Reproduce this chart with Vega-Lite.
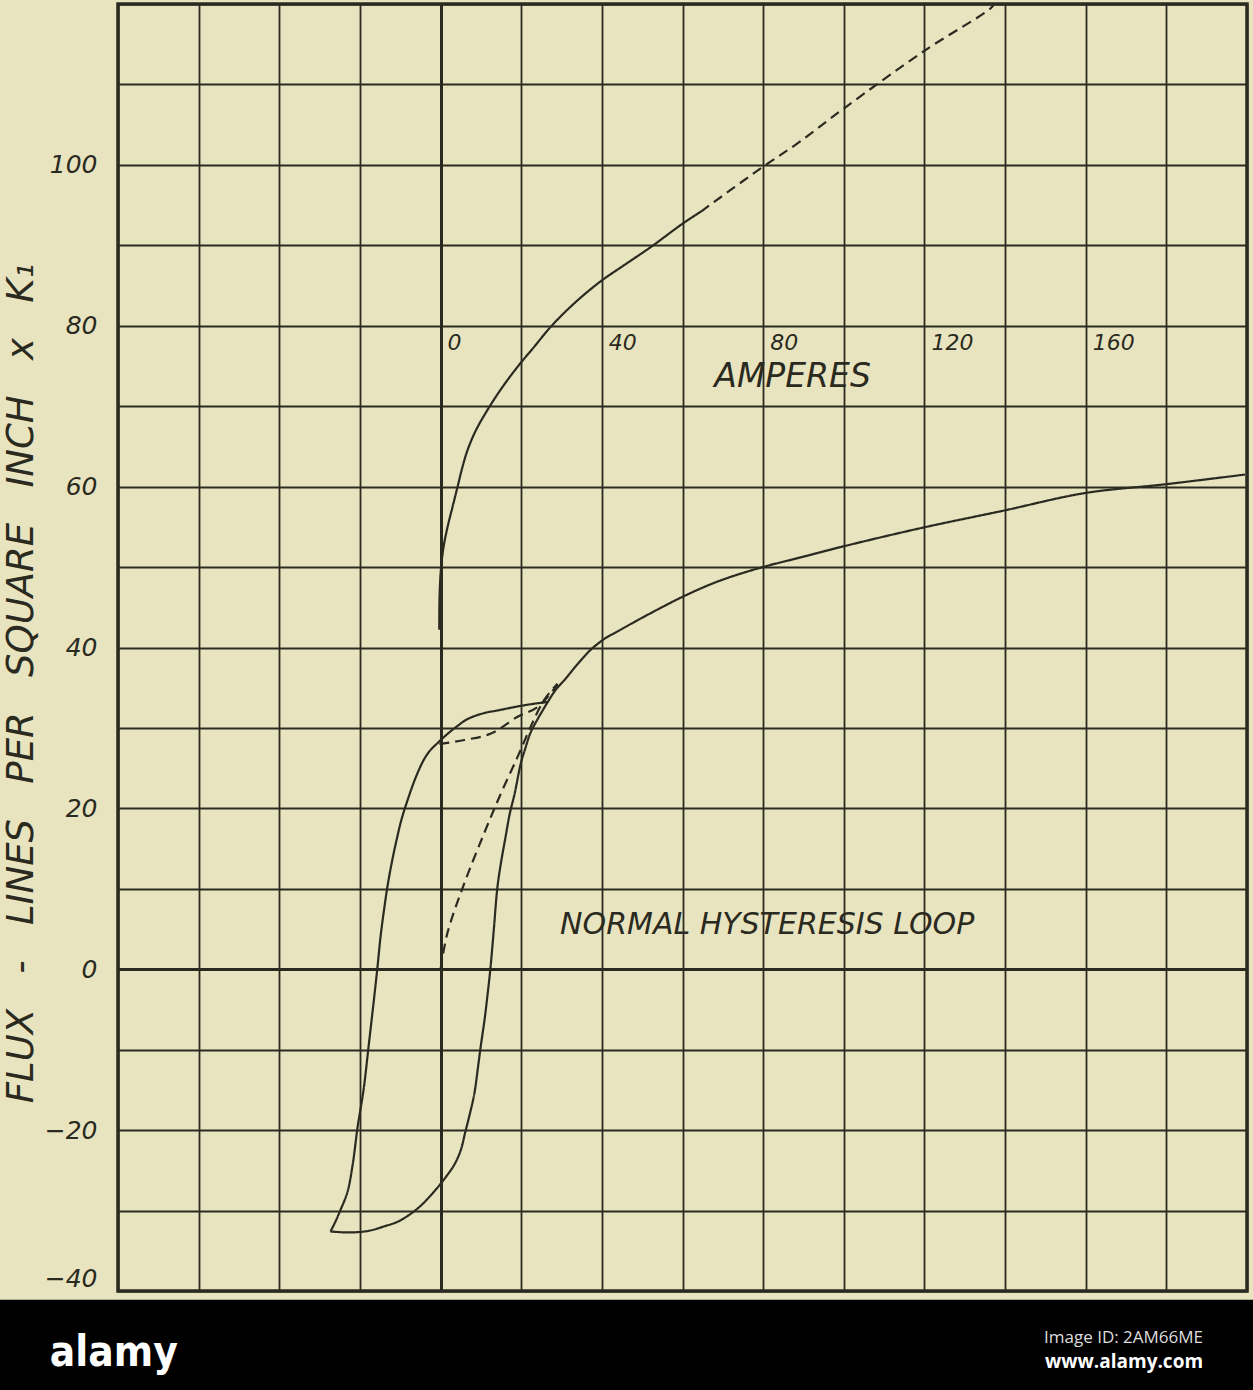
{
  "$schema": "https://vega.github.io/schema/vega-lite/v6.json",
  "background": "#e9e4c0",
  "autosize": {"type": "none"},
  "padding": {"left": 118, "top": 4, "right": 6, "bottom": 99},
  "width": 1129,
  "height": 1287,
  "view": {"stroke": "#2a2a20", "strokeWidth": 3.5},
  "datasets": {
    "curves": [
      {"curve": "upper", "style": "solid", "i": 1, "A": -0.32, "flux": 42.2},
      {"curve": "upper", "style": "solid", "i": 2, "A": -0.25, "flux": 46.3},
      {"curve": "upper", "style": "solid", "i": 3, "A": 0.07, "flux": 49.6},
      {"curve": "upper", "style": "solid", "i": 4, "A": 0.74, "flux": 52.5},
      {"curve": "upper", "style": "solid", "i": 5, "A": 1.74, "flux": 55.0},
      {"curve": "upper", "style": "solid", "i": 6, "A": 2.98, "flux": 57.5},
      {"curve": "upper", "style": "solid", "i": 7, "A": 4.22, "flux": 60.0},
      {"curve": "upper", "style": "solid", "i": 8, "A": 5.46, "flux": 62.5},
      {"curve": "upper", "style": "solid", "i": 9, "A": 6.7, "flux": 64.55},
      {"curve": "upper", "style": "solid", "i": 10, "A": 8.76, "flux": 67.0},
      {"curve": "upper", "style": "solid", "i": 11, "A": 12.08, "flux": 69.9},
      {"curve": "upper", "style": "solid", "i": 12, "A": 15.38, "flux": 72.4},
      {"curve": "upper", "style": "solid", "i": 13, "A": 19.1, "flux": 74.9},
      {"curve": "upper", "style": "solid", "i": 14, "A": 23.25, "flux": 77.4},
      {"curve": "upper", "style": "solid", "i": 15, "A": 27.37, "flux": 79.9},
      {"curve": "upper", "style": "solid", "i": 16, "A": 33.18, "flux": 82.8},
      {"curve": "upper", "style": "solid", "i": 17, "A": 39.63, "flux": 85.5},
      {"curve": "upper", "style": "solid", "i": 18, "A": 45.58, "flux": 87.55},
      {"curve": "upper", "style": "solid", "i": 19, "A": 52.18, "flux": 89.8},
      {"curve": "upper", "style": "solid", "i": 20, "A": 60.05, "flux": 92.7},
      {"curve": "upper", "style": "solid", "i": 21, "A": 64.6, "flux": 94.2},
      {"curve": "upperDash", "style": "dashed", "i": 1, "A": 64.6, "flux": 94.2},
      {"curve": "upperDash", "style": "dashed", "i": 2, "A": 79.2, "flux": 99.5},
      {"curve": "upperDash", "style": "dashed", "i": 3, "A": 88.6, "flux": 102.7},
      {"curve": "upperDash", "style": "dashed", "i": 4, "A": 100.25, "flux": 107.1},
      {"curve": "upperDash", "style": "dashed", "i": 5, "A": 120.35, "flux": 114.3},
      {"curve": "upperDash", "style": "dashed", "i": 6, "A": 136.5, "flux": 119.5},
      {"curve": "upperDash", "style": "dashed", "i": 7, "A": 137.2, "flux": 120},
      {"curve": "desc", "style": "solid", "i": 1, "A": 26.55, "flux": 33.23},
      {"curve": "desc", "style": "solid", "i": 2, "A": 22.8, "flux": 32.98},
      {"curve": "desc", "style": "solid", "i": 3, "A": 19.1, "flux": 32.67},
      {"curve": "desc", "style": "solid", "i": 4, "A": 14.1, "flux": 32.17},
      {"curve": "desc", "style": "solid", "i": 5, "A": 10.9, "flux": 31.86},
      {"curve": "desc", "style": "solid", "i": 6, "A": 6.7, "flux": 31.11},
      {"curve": "desc", "style": "solid", "i": 7, "A": 4.2, "flux": 30.25},
      {"curve": "desc", "style": "solid", "i": 8, "A": 1.7, "flux": 29.25},
      {"curve": "desc", "style": "solid", "i": 9, "A": -0.74, "flux": 28.13},
      {"curve": "desc", "style": "solid", "i": 10, "A": -2.7, "flux": 27.14},
      {"curve": "desc", "style": "solid", "i": 11, "A": -4.2, "flux": 26.0},
      {"curve": "desc", "style": "solid", "i": 12, "A": -6.2, "flux": 23.8},
      {"curve": "desc", "style": "solid", "i": 13, "A": -8.2, "flux": 21.0},
      {"curve": "desc", "style": "solid", "i": 14, "A": -9.7, "flux": 18.6},
      {"curve": "desc", "style": "solid", "i": 15, "A": -10.9, "flux": 16.1},
      {"curve": "desc", "style": "solid", "i": 16, "A": -12.2, "flux": 13.0},
      {"curve": "desc", "style": "solid", "i": 17, "A": -13.2, "flux": 10.2},
      {"curve": "desc", "style": "solid", "i": 18, "A": -14.1, "flux": 7.1},
      {"curve": "desc", "style": "solid", "i": 19, "A": -14.9, "flux": 4.0},
      {"curve": "desc", "style": "solid", "i": 20, "A": -15.6, "flux": 0.5},
      {"curve": "desc", "style": "solid", "i": 21, "A": -16.4, "flux": -3.2},
      {"curve": "desc", "style": "solid", "i": 22, "A": -17.1, "flux": -6.3},
      {"curve": "desc", "style": "solid", "i": 23, "A": -17.9, "flux": -9.8},
      {"curve": "desc", "style": "solid", "i": 24, "A": -19.1, "flux": -15.0},
      {"curve": "desc", "style": "solid", "i": 25, "A": -20.6, "flux": -19.7},
      {"curve": "desc", "style": "solid", "i": 26, "A": -21.8, "flux": -24.3},
      {"curve": "desc", "style": "solid", "i": 27, "A": -23.1, "flux": -27.7},
      {"curve": "desc", "style": "solid", "i": 28, "A": -24.8, "flux": -29.9},
      {"curve": "desc", "style": "solid", "i": 29, "A": -26.1, "flux": -31.4},
      {"curve": "desc", "style": "solid", "i": 30, "A": -27.3, "flux": -32.6},
      {"curve": "asc", "style": "solid", "i": 1, "A": -27.3, "flux": -32.6},
      {"curve": "asc", "style": "solid", "i": 2, "A": -24.3, "flux": -32.7},
      {"curve": "asc", "style": "solid", "i": 3, "A": -21.3, "flux": -32.7},
      {"curve": "asc", "style": "solid", "i": 4, "A": -17.6, "flux": -32.5},
      {"curve": "asc", "style": "solid", "i": 5, "A": -13.9, "flux": -31.95},
      {"curve": "asc", "style": "solid", "i": 6, "A": -10.7, "flux": -31.4},
      {"curve": "asc", "style": "solid", "i": 7, "A": -7.4, "flux": -30.4},
      {"curve": "asc", "style": "solid", "i": 8, "A": -4.5, "flux": -29.2},
      {"curve": "asc", "style": "solid", "i": 9, "A": -1.2, "flux": -27.4},
      {"curve": "asc", "style": "solid", "i": 10, "A": 1.2, "flux": -25.9},
      {"curve": "asc", "style": "solid", "i": 11, "A": 3.4, "flux": -24.3},
      {"curve": "asc", "style": "solid", "i": 12, "A": 5.0, "flux": -22.5},
      {"curve": "asc", "style": "solid", "i": 13, "A": 6.1, "flux": -20.3},
      {"curve": "asc", "style": "solid", "i": 14, "A": 7.3, "flux": -17.9},
      {"curve": "asc", "style": "solid", "i": 15, "A": 8.4, "flux": -15.4},
      {"curve": "asc", "style": "solid", "i": 16, "A": 9.2, "flux": -12.5},
      {"curve": "asc", "style": "solid", "i": 17, "A": 9.9, "flux": -9.8},
      {"curve": "asc", "style": "solid", "i": 18, "A": 10.9, "flux": -6.3},
      {"curve": "asc", "style": "solid", "i": 19, "A": 11.7, "flux": -2.95},
      {"curve": "asc", "style": "solid", "i": 20, "A": 12.4, "flux": 0.3},
      {"curve": "asc", "style": "solid", "i": 21, "A": 13.2, "flux": 4.9},
      {"curve": "asc", "style": "solid", "i": 22, "A": 14.1, "flux": 10.2},
      {"curve": "asc", "style": "solid", "i": 23, "A": 15.1, "flux": 13.6},
      {"curve": "asc", "style": "solid", "i": 24, "A": 16.1, "flux": 16.4},
      {"curve": "asc", "style": "solid", "i": 25, "A": 17.1, "flux": 19.2},
      {"curve": "asc", "style": "solid", "i": 26, "A": 18.4, "flux": 21.9},
      {"curve": "asc", "style": "solid", "i": 27, "A": 19.9, "flux": 25.6},
      {"curve": "asc", "style": "solid", "i": 28, "A": 21.1, "flux": 27.6},
      {"curve": "asc", "style": "solid", "i": 29, "A": 22.3, "flux": 29.4},
      {"curve": "asc", "style": "solid", "i": 30, "A": 24.3, "flux": 31.3},
      {"curve": "asc", "style": "solid", "i": 31, "A": 26.55, "flux": 33.2},
      {"curve": "asc", "style": "solid", "i": 32, "A": 28.5, "flux": 34.7},
      {"curve": "asc", "style": "solid", "i": 33, "A": 30.8, "flux": 36.0},
      {"curve": "asc", "style": "solid", "i": 34, "A": 34.0, "flux": 37.95},
      {"curve": "asc", "style": "solid", "i": 35, "A": 37.2, "flux": 39.7},
      {"curve": "asc", "style": "solid", "i": 36, "A": 40.7, "flux": 41.1},
      {"curve": "asc", "style": "solid", "i": 37, "A": 43.9, "flux": 42.0},
      {"curve": "asc", "style": "solid", "i": 38, "A": 48.9, "flux": 43.4},
      {"curve": "asc", "style": "solid", "i": 39, "A": 54.5, "flux": 44.9},
      {"curve": "asc", "style": "solid", "i": 40, "A": 60.0, "flux": 46.3},
      {"curve": "asc", "style": "solid", "i": 41, "A": 68.7, "flux": 48.2},
      {"curve": "asc", "style": "solid", "i": 42, "A": 79.2, "flux": 49.9},
      {"curve": "asc", "style": "solid", "i": 43, "A": 89.3, "flux": 51.2},
      {"curve": "asc", "style": "solid", "i": 44, "A": 99.3, "flux": 52.5},
      {"curve": "asc", "style": "solid", "i": 45, "A": 119.6, "flux": 54.9},
      {"curve": "asc", "style": "solid", "i": 46, "A": 139.5, "flux": 57.0},
      {"curve": "asc", "style": "solid", "i": 47, "A": 159.8, "flux": 59.2},
      {"curve": "asc", "style": "solid", "i": 48, "A": 179.9, "flux": 60.3},
      {"curve": "asc", "style": "solid", "i": 49, "A": 199.5, "flux": 61.5},
      {"curve": "virgin", "style": "dashed", "i": 1, "A": 0, "flux": 0},
      {"curve": "virgin", "style": "dashed", "i": 2, "A": 1.7, "flux": 4.5},
      {"curve": "virgin", "style": "dashed", "i": 3, "A": 5.9, "flux": 10.7},
      {"curve": "virgin", "style": "dashed", "i": 4, "A": 10.8, "flux": 16.9},
      {"curve": "virgin", "style": "dashed", "i": 5, "A": 15.0, "flux": 21.9},
      {"curve": "virgin", "style": "dashed", "i": 6, "A": 19.1, "flux": 26.4},
      {"curve": "virgin", "style": "dashed", "i": 7, "A": 22.4, "flux": 30.2},
      {"curve": "virgin", "style": "dashed", "i": 8, "A": 25.7, "flux": 33.5},
      {"curve": "virgin", "style": "dashed", "i": 9, "A": 29.0, "flux": 35.5},
      {"curve": "minor", "style": "dashed", "i": 1, "A": -0.3, "flux": 28.0},
      {"curve": "minor", "style": "dashed", "i": 2, "A": 5.9, "flux": 28.5},
      {"curve": "minor", "style": "dashed", "i": 3, "A": 12.5, "flux": 29.3},
      {"curve": "minor", "style": "dashed", "i": 4, "A": 19.1, "flux": 31.4},
      {"curve": "minor", "style": "dashed", "i": 5, "A": 24.1, "flux": 32.6},
      {"curve": "minor", "style": "dashed", "i": 6, "A": 29.0, "flux": 35.4}
    ],
    "amps": [
      {"A": 0, "flux": 77.9, "label": "0"},
      {"A": 40, "flux": 77.9, "label": "40"},
      {"A": 80, "flux": 77.9, "label": "80"},
      {"A": 120, "flux": 77.9, "label": "120"},
      {"A": 160, "flux": 77.9, "label": "160"}
    ],
    "notes": [
      {"A": 87.3, "flux": 73.6, "label": "AMPERES"},
      {"A": 81.0, "flux": 5.5, "label": "NORMAL HYSTERESIS LOOP"}
    ],
    "band": [
      {"A": -120, "A2": 210, "flux": -41.1, "flux2": -54}
    ],
    "stamp": [
      {"part": "logo", "A": -96.9, "flux": -49.3, "label": "alamy"},
      {"part": "id", "A": 189.1, "flux": -45.8, "label": "Image ID: 2AM66ME"},
      {"part": "url", "A": 189.1, "flux": -48.8, "label": "www.alamy.com"}
    ]
  },
  "encoding": {
    "x": {
      "field": "A", "type": "quantitative",
      "scale": {"domain": [-80, 200], "nice": false, "zero": false},
      "axis": {
        "values": [-80, -60, -40, -20, 0, 20, 40, 60, 80, 100, 120, 140, 160, 180, 200],
        "grid": true, "gridColor": "#2a2a20", "gridOpacity": 1,
        "gridWidth": {"condition": {"test": "datum.value === 0", "value": 3}, "value": 1.8},
        "labels": false, "ticks": false, "domain": false, "title": null
      }
    },
    "y": {
      "field": "flux", "type": "quantitative",
      "scale": {"domain": [-40, 120], "nice": false, "zero": false},
      "axis": {
        "values": [-40, -30, -20, -10, 0, 10, 20, 30, 40, 50, 60, 70, 80, 90, 100, 110, 120],
        "grid": true, "gridColor": "#2a2a20", "gridOpacity": 1,
        "gridWidth": {"condition": {"test": "datum.value === 0", "value": 3}, "value": 1.8},
        "ticks": false, "domain": false,
        "labelExpr": "(datum.value % 20 === 0 && datum.value <= 100) ? datum.label : ''",
        "labelFont": "DejaVu Sans", "labelFontStyle": "italic", "labelFontSize": 25,
        "labelColor": "#2a2a20", "labelPadding": 21, "labelFlush": true,
        "title": "FLUX\u00a0\u00a0 - \u00a0\u00a0LINES\u00a0\u00a0 PER\u00a0\u00a0 SQUARE\u00a0\u00a0 INCH\u00a0\u00a0 x\u00a0\u00a0 K₁",
        "titleFont": "DejaVu Sans", "titleFontStyle": "italic", "titleFontWeight": "normal",
        "titleFontSize": 37, "titleColor": "#2a2a20",
        "titleX": -97, "titleY": 679, "titleAngle": 270,
        "titleAlign": "center", "titleBaseline": "middle"
      }
    }
  },
  "layer": [
    {
      "data": {"name": "curves"},
      "mark": {"type": "line", "color": "#2a2a20", "strokeWidth": 2.2, "interpolate": "catmull-rom"},
      "encoding": {
        "detail": {"field": "curve", "type": "nominal"},
        "order": {"field": "i", "type": "quantitative"},
        "strokeDash": {
          "field": "style", "type": "nominal",
          "scale": {"domain": ["solid", "dashed"], "range": [[1, 0], [10, 6]]},
          "legend": null
        }
      }
    },
    {
      "data": {"name": "amps"},
      "mark": {"type": "text", "align": "left", "baseline": "middle", "dx": 7, "font": "DejaVu Sans", "fontStyle": "italic", "fontSize": 22, "color": "#2a2a20"},
      "encoding": {"text": {"field": "label"}}
    },
    {
      "data": {"name": "notes"},
      "transform": [{"filter": "datum.label === 'AMPERES'"}],
      "mark": {"type": "text", "align": "center", "baseline": "middle", "font": "DejaVu Sans", "fontStyle": "italic", "fontSize": 33, "color": "#2a2a20"},
      "encoding": {"text": {"field": "label"}}
    },
    {
      "data": {"name": "notes"},
      "transform": [{"filter": "datum.label !== 'AMPERES'"}],
      "mark": {"type": "text", "align": "center", "baseline": "middle", "font": "DejaVu Sans", "fontStyle": "italic", "fontSize": 30, "color": "#2a2a20"},
      "encoding": {"text": {"field": "label"}}
    },
    {
      "data": {"name": "band"},
      "mark": {"type": "rect", "color": "#000000", "clip": false},
      "encoding": {
        "x2": {"field": "A2"},
        "y2": {"field": "flux2"}
      }
    },
    {
      "data": {"name": "stamp"},
      "transform": [{"filter": "datum.part === 'logo'"}],
      "mark": {"type": "text", "align": "left", "baseline": "alphabetic", "clip": false, "font": "DejaVu Sans Condensed, DejaVu Sans", "fontWeight": "bold", "fontSize": 42, "color": "#ffffff"},
      "encoding": {"text": {"field": "label"}}
    },
    {
      "data": {"name": "stamp"},
      "transform": [{"filter": "datum.part === 'id'"}],
      "mark": {"type": "text", "align": "right", "baseline": "middle", "clip": false, "font": "Open Sans", "fontSize": 17, "color": "#dddddd"},
      "encoding": {"text": {"field": "label"}}
    },
    {
      "data": {"name": "stamp"},
      "transform": [{"filter": "datum.part === 'url'"}],
      "mark": {"type": "text", "align": "right", "baseline": "middle", "clip": false, "font": "Open Sans", "fontWeight": "bold", "fontSize": 19, "color": "#ffffff"},
      "encoding": {"text": {"field": "label"}}
    }
  ]
}
